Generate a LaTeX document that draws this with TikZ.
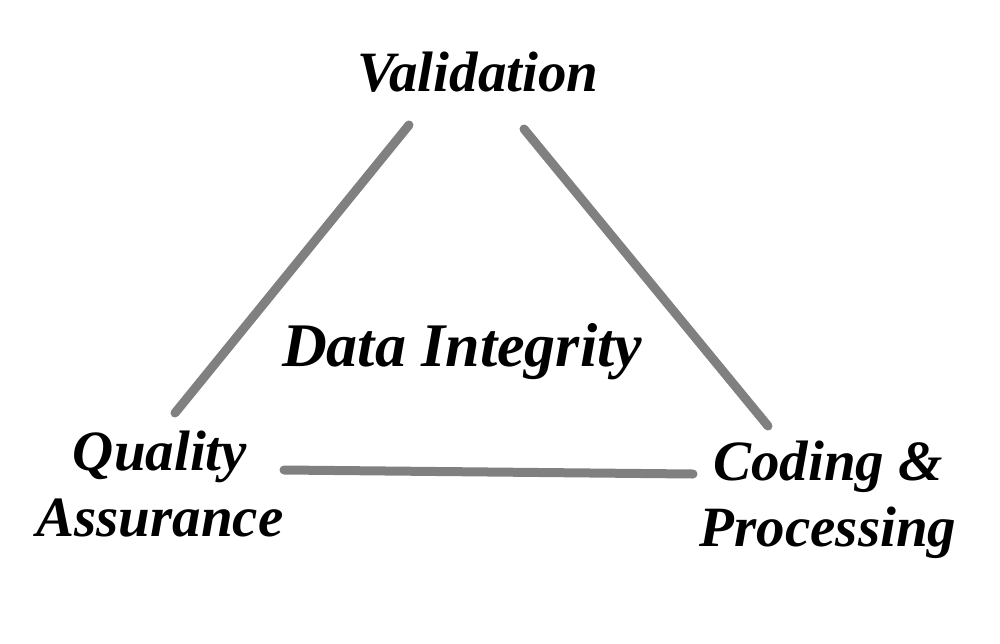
\documentclass[tikz,border=0pt]{standalone}
\usepackage{fontspec}
\setmainfont{Liberation Serif}
\usetikzlibrary{calc}

\tikzset{
  label/.style={font=\fontsize{57}{66}\selectfont\bfseries\itshape, align=center, inner sep=0pt},
  side/.style={line width=9pt, color=gray, line cap=round}
}

\begin{document}
\begin{tikzpicture}[x=1pt,y=-1pt]
\useasboundingbox (0,0) rectangle (1000,643);
% texts
\node[label] (valid) at (478,72) {Validation};
\node[label, font=\fontsize{62}{66}\selectfont\bfseries\itshape] (data) at (462,352) {Data Integrity};
\node[label] (qa) at (160,484) {Quality\\Assurance};
\node[label] (cod) at (828,500) {Coding \&\\Processing};
% line ends
\coordinate (lb) at (175,413);
\coordinate (lt) at (409,125);
\coordinate (rt) at (524,129);
\coordinate (rb) at (768,426);
\coordinate (bl) at (284,470);
\coordinate (br) at (693,474);
\draw[side] (lb) -- (lt);
\draw[side] (rt) -- (rb);
\draw[side] (bl) -- (br);
\end{tikzpicture}
\end{document}
